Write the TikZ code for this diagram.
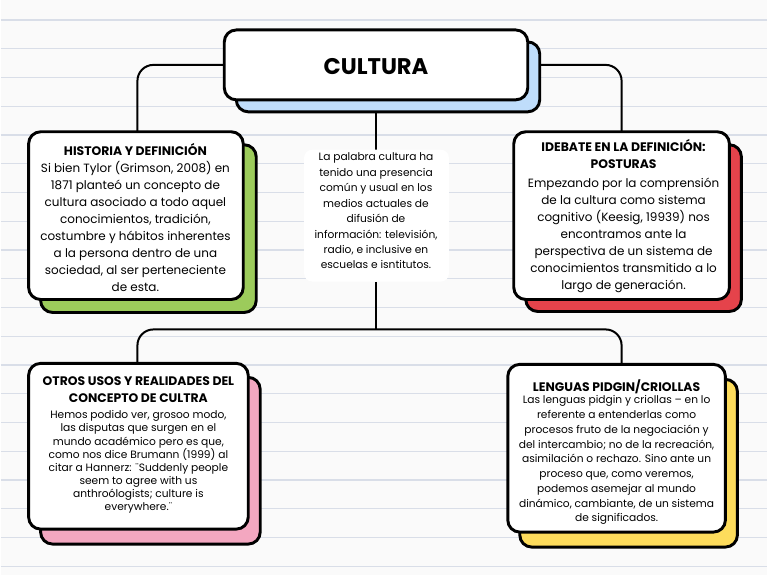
\documentclass[tikz,border=0pt]{standalone}
\usepackage{fontspec}
\setmainfont{Poppins}
\definecolor{linec}{HTML}{D9DEE8}
\definecolor{shblue}{HTML}{BFDDFB}
\definecolor{shgreen}{HTML}{9CCB5B}
\definecolor{shred}{HTML}{E5434B}
\definecolor{shpink}{HTML}{F3A7C0}
\definecolor{shyellow}{HTML}{FDDC5C}
\begin{document}
\begin{tikzpicture}[x=0.75pt,y=-0.75pt,
  card/.style={draw=black,line width=2.2pt,fill=white,rounded corners=9pt},
  shad/.style={draw=black,line width=2.2pt,rounded corners=9pt},
  conn/.style={draw=black,line width=1.5pt,rounded corners=12pt},
  body/.style={align=center,font=\fontsize{9}{12.8}\selectfont,inner sep=0pt},
  head/.style={align=center,font=\bfseries\fontsize{9.3}{13}\selectfont,inner sep=0pt}]
\fill[white!96!gray] (0,0) rectangle (768,576);
\foreach \i in {0,...,19} \draw[linec,line width=1pt] (0,20+28.8*\i) -- (768,20+28.8*\i);
\useasboundingbox (0,0) rectangle (768,576);
% connectors
\coordinate (tl) at (224,65);
\coordinate (tr) at (528,65);
\draw[conn] (tl) -- (137,65) -- (137,132);
\draw[conn] (tr) -- (622,65) -- (622,132);
\draw[conn] (376,112) -- (376,152);
\draw[conn] (376,282) -- (376,330);
\draw[conn] (137,364) -- (137,330) -- (622,330) -- (622,365);
% title
\draw[shad,fill=shblue] (236,42) rectangle (540,112);
\draw[card] (224,30) rectangle (528,100);
\node[font=\bfseries\fontsize{17}{20}\selectfont] (title) at (376,67) {CULTURA};
% left
\draw[shad,fill=shgreen] (40,145) rectangle (256,313);
\draw[card] (28,132) rectangle (243,300);
\node[head] (h1) at (135,150) {HISTORIA Y DEFINICIÓN};
\node[body,anchor=north] (b1) at (135,161) {Si bien Tylor (Grimson, 2008) en\\1871 planteó un concepto de\\cultura  asociado a todo aquel\\conocimientos, tradición,\\costumbre y hábitos inherentes\\a la persona dentro de una\\sociedad, al ser perteneciente\\de esta.};
% right
\draw[shad,fill=shred] (526,145) rectangle (742,312);
\draw[card] (514,132) rectangle (730,300);
\node[head] (h2) at (624,154) {IDEBATE EN LA DEFINICIÓN:\\POSTURAS};
\node[body,anchor=north] (b2) at (624,178) {Empezando por la comprensión\\de la cultura como sistema\\cognitivo (Keesig, 19939) nos\\encontramos ante la\\perspectiva de un sistema de\\conocimientos transmitido a lo\\largo de generación.};
% middle
\fill[white,rounded corners=6pt] (304,150) rectangle (449,282);
\node[body,font=\fontsize{8}{11.6}\selectfont,anchor=north] (mid) at (376,153) {La palabra cultura ha\\tenido una presencia\\común y usual en los\\medios actuales de\\difusión de\\información: televisión,\\radio, e inclusive en\\escuelas e isntitutos.};
% bottom left
\draw[shad,fill=shpink] (40,378) rectangle (260,545);
\draw[card] (28,364) rectangle (248,530);
\node[head] (h3) at (138,390) {OTROS USOS Y REALIDADES DEL\\CONCEPTO DE CULTRA};
\node[body,font=\fontsize{8}{9.9}\selectfont,anchor=north] (b3) at (138,411) {Hemos podido ver, grosoo modo,\\las disputas que surgen en el\\mundo académico pero es que,\\como nos dice Brumann (1999) al\\citar a Hannerz: ¨Suddenly people\\seem to agree with us\\anthroólogists; culture is\\everywhere.¨};
% bottom right
\draw[shad,fill=shyellow] (520,380) rectangle (738,548);
\draw[card] (508,365) rectangle (726,533);
\node[head] (h4) at (617,387) {LENGUAS PIDGIN/CRIOLLAS};
\node[body,font=\fontsize{8}{11.1}\selectfont,anchor=north] (b4) at (617,396) {Las lenguas pidgin y criollas – en lo\\referente a entenderlas como\\procesos fruto de la negociación y\\del intercambio; no de la recreación,\\asimilación o rechazo. Sino ante un\\proceso que, como veremos,\\podemos asemejar al mundo\\dinámico, cambiante, de un sistema\\de significados.};
\end{tikzpicture}
\end{document}
